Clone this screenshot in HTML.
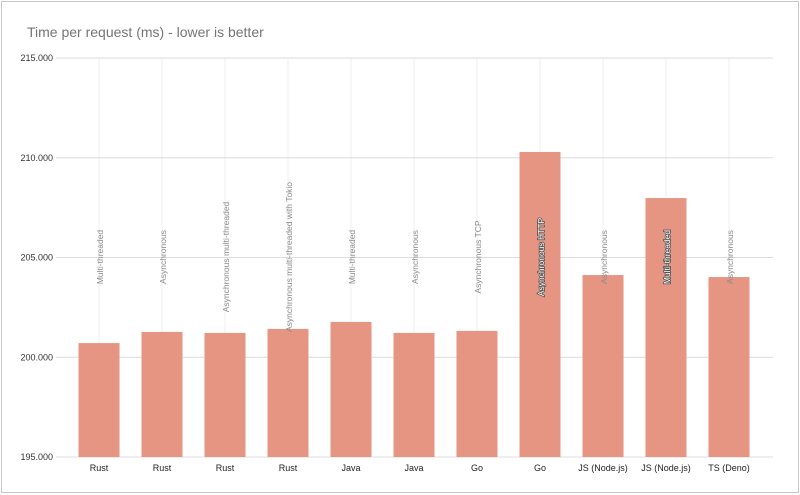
<!DOCTYPE html>
<html><head><meta charset="utf-8"><style>
html,body{margin:0;padding:0;background:#fff;}
svg{display:block;font-family:"Liberation Sans",Arial,sans-serif;}
</style></head><body>
<svg id="chart" width="800" height="495" viewBox="0 0 800 495">
<rect x="1.5" y="1.5" width="797" height="491" fill="#fff" stroke="#c8c8c8"/>
<text x="27" y="37" font-size="14" fill="#757575">Time per request (ms) - lower is better</text>
<g id="grid"></g><g id="bars"></g><g id="labels"></g>
</svg>
<script>
const categories=["Rust","Rust","Rust","Rust","Java","Java","Go","Go","JS (Node.js)","JS (Node.js)","TS (Deno)"];
const variants=["Multi-threaded","Asynchronous","Asynchronous multi-threaded","Asynchronous multi-threaded with Tokio","Multi-threaded","Asynchronous","Asynchronous TCP","Asynchronous HTTP","Asynchronous","Multi-threaded","Asynchronous"];
const values=[200.71,201.27,201.22,201.42,201.77,201.22,201.32,210.29,204.12,207.98,204.02];
const yTicks=[195,200,205,210,215];
const yTickLabels=["195.000","200.000","205.000","210.000","215.000"];

const NS="http://www.w3.org/2000/svg";
const yMin=195,yMax=215,plotTop=58,plotBottom=457,plotLeft=56,plotRight=773,firstX=99,step=63,barW=41;
const yScale=v=>plotBottom-(v-yMin)/(yMax-yMin)*(plotBottom-plotTop);
const xScale=i=>firstX+i*step;
function mk(t,a,p){const e=document.createElementNS(NS,t);for(const k in a)e.setAttribute(k,a[k]);p.appendChild(e);return e;}
const grid=document.getElementById('grid'),bars=document.getElementById('bars'),labels=document.getElementById('labels');
categories.forEach((c,i)=>{
  const l=mk('line',{x1:xScale(i),x2:xScale(i),y1:plotTop,y2:plotBottom,stroke:'#efefef'},grid);
  
  
});
yTicks.forEach((t,i)=>{
  const l=mk('line',{x1:plotLeft,x2:plotRight,y1:yScale(t),y2:yScale(t),stroke:'#dcdcdc'},grid);
  
  
  const tx=mk('text',{x:53,y:yScale(t)+3,'font-size':'9','text-anchor':'end',fill:'#333'},grid);
  tx.textContent=yTickLabels[i];
  
  
});
values.forEach((v,i)=>{
  const r=mk('rect',{x:xScale(i)-barW/2,y:yScale(v),width:barW,height:plotBottom-yScale(v),fill:'#e69583'},bars);
  
  
  const tx=mk('text',{x:xScale(i),y:471,'font-size':'9','text-anchor':'middle',fill:'#222'},labels);
  tx.textContent=categories[i];
  
  
  const cy=257,cx=xScale(i)+4;
  const inside=yScale(v)<cy-40;
  const dl=mk('text',{x:cx,y:cy,'font-size':'8.5','text-anchor':'middle',transform:`rotate(-90 ${cx} ${cy})`,fill:inside?'#fff':'#8a8a8a'},labels);
  if(inside){dl.setAttribute('stroke','#555');dl.setAttribute('stroke-width','1.6');dl.setAttribute('paint-order','stroke');}
  dl.textContent=variants[i];
  
  
});
</script>
</body></html>
